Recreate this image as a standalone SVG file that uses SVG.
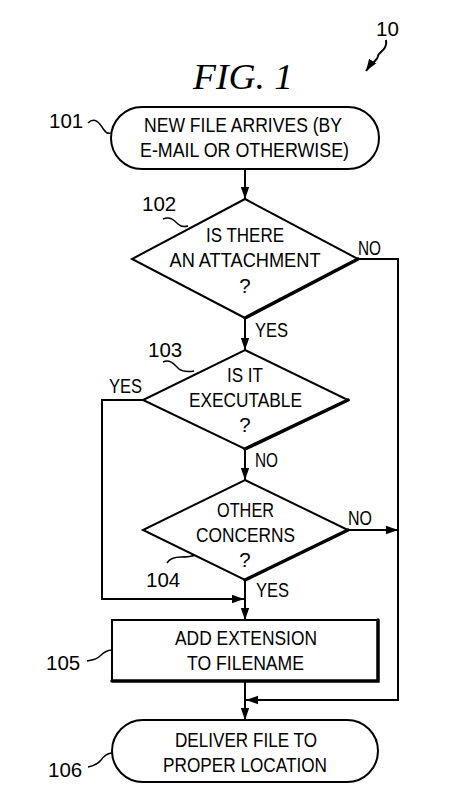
<svg xmlns="http://www.w3.org/2000/svg" width="474" height="812" viewBox="0 0 474 812">
<defs>
<marker id="ah" markerUnits="userSpaceOnUse" markerWidth="12" markerHeight="10" viewBox="0 0 12 10" refX="12" refY="5" orient="auto">
<path d="M0,0.8 L12,5 L0,9.2 Z" fill="#000"/>
</marker>
<style>
.t{font-family:"Liberation Sans",Arial,sans-serif;font-size:20.5px;fill:#000;text-anchor:middle}
.l{font-family:"Liberation Sans",Arial,sans-serif;font-size:20.5px;fill:#000}
.s{fill:#fff;stroke:#000;stroke-width:2}
.k{fill:none;stroke:#000;stroke-width:3.5;stroke-linecap:round}
.c{fill:none;stroke:#000;stroke-width:2}
.ld{fill:none;stroke:#000;stroke-width:1.5}
</style>
</defs>
<rect width="474" height="812" fill="#fff"/>
<text x="243" y="89" font-family="'Liberation Serif','Times New Roman',serif" font-style="italic" font-size="35" text-anchor="middle" textLength="100" lengthAdjust="spacingAndGlyphs">FIG. 1</text>
<g id="ref10">
<text class="l" x="376" y="36" font-size="22">10</text>
<path class="c" d="M386,40 C388,50 378,52 378,56 C378,60 372,62 366,71" marker-end="url(#ah)"/>
</g>
<g id="connectors">
<path class="c" d="M245,169 V199" marker-end="url(#ah)"/>
<path class="c" d="M245,318 V350" marker-end="url(#ah)"/>
<path class="c" d="M358,259 H398 V700 H246" marker-end="url(#ah)"/>
<path class="c" d="M245,449 V480" marker-end="url(#ah)"/>
<path class="c" d="M143,400 H102 V599 H244" marker-end="url(#ah)"/>
<path class="c" d="M348,530 H398" marker-end="url(#ah)"/>
<path class="c" d="M245,580 V620" marker-end="url(#ah)"/>
<path class="c" d="M245,681 V720" marker-end="url(#ah)"/>
<text class="l" x="358" y="255" textLength="23" lengthAdjust="spacingAndGlyphs">NO</text>
<text class="l" x="255" y="337" textLength="33" lengthAdjust="spacingAndGlyphs">YES</text>
<text class="l" x="109" y="393" textLength="33" lengthAdjust="spacingAndGlyphs">YES</text>
<text class="l" x="255" y="467" textLength="23" lengthAdjust="spacingAndGlyphs">NO</text>
<text class="l" x="348" y="525" textLength="24" lengthAdjust="spacingAndGlyphs">NO</text>
<text class="l" x="256" y="597" textLength="33" lengthAdjust="spacingAndGlyphs">YES</text>
</g>
<g id="n101">
<rect class="s" x="111" y="107" width="268" height="62" rx="31" ry="31"/>
<text class="t" x="243" y="132" textLength="198" lengthAdjust="spacingAndGlyphs">NEW FILE ARRIVES (BY</text>
<text class="t" x="244.5" y="157" textLength="209" lengthAdjust="spacingAndGlyphs">E-MAIL OR OTHERWISE)</text>
<text class="l" x="49" y="128">101</text>
<path class="ld" d="M88,123 C95,116 100,124 104,130 C106,133 108,134 111,133"/>
</g>
<g id="n102">
<polygon class="s" points="245,199 358,259 245,318 132,259"/>
<path class="k" d="M358,259 L245,318"/>
<text class="t" x="245" y="242" textLength="78" lengthAdjust="spacingAndGlyphs">IS THERE</text>
<text class="t" x="245" y="267" textLength="151" lengthAdjust="spacingAndGlyphs">AN ATTACHMENT</text>
<text class="t" x="245" y="293">?</text>
<text class="l" x="142" y="211">102</text>
<path class="ld" d="M163,219 C170,216 174,220 178,224 C181,227 184,227 188,226"/>
</g>
<g id="n103">
<polygon class="s" points="245,350 348,400 245,449 143,400"/>
<path class="k" d="M348,400 L245,449"/>
<text class="t" x="245" y="382" textLength="36" lengthAdjust="spacingAndGlyphs">IS IT</text>
<text class="t" x="245.5" y="407" textLength="113" lengthAdjust="spacingAndGlyphs">EXECUTABLE</text>
<text class="t" x="245" y="432">?</text>
<text class="l" x="148" y="357">103</text>
<path class="ld" d="M163,362 C170,359 174,364 179,369 C183,372 188,372 194,371"/>
</g>
<g id="n104">
<polygon class="s" points="245,480 348,530 245,580 143,530"/>
<path class="k" d="M348,530 L245,580"/>
<text class="t" x="245.5" y="517" textLength="57" lengthAdjust="spacingAndGlyphs">OTHER</text>
<text class="t" x="245.5" y="542" textLength="99" lengthAdjust="spacingAndGlyphs">CONCERNS</text>
<text class="t" x="245" y="567">?</text>
<text class="l" x="146" y="587">104</text>
<path class="ld" d="M167,563 C170,558 176,557 181,557 C187,557 191,557 195,555"/>
</g>
<g id="n105">
<rect class="s" x="112" y="620" width="266" height="61"/>
<path class="k" d="M112,681 H378 V620"/>
<text class="t" x="246" y="645" textLength="142" lengthAdjust="spacingAndGlyphs">ADD EXTENSION</text>
<text class="t" x="245.5" y="670" textLength="117" lengthAdjust="spacingAndGlyphs">TO FILENAME</text>
<text class="l" x="46" y="670">105</text>
<path class="ld" d="M87,661 C92,660 96,660 100,656 C104,652 107,650 112,650"/>
</g>
<g id="n106">
<rect class="s" x="112" y="720" width="266" height="62" rx="31" ry="31"/>
<text class="t" x="246" y="747" textLength="142" lengthAdjust="spacingAndGlyphs">DELIVER FILE TO</text>
<text class="t" x="245" y="772" textLength="164" lengthAdjust="spacingAndGlyphs">PROPER LOCATION</text>
<text class="l" x="48" y="777">106</text>
<path class="ld" d="M88,767 C93,766 97,765 101,760 C104,756 107,753 112,753"/>
</g>
</svg>
